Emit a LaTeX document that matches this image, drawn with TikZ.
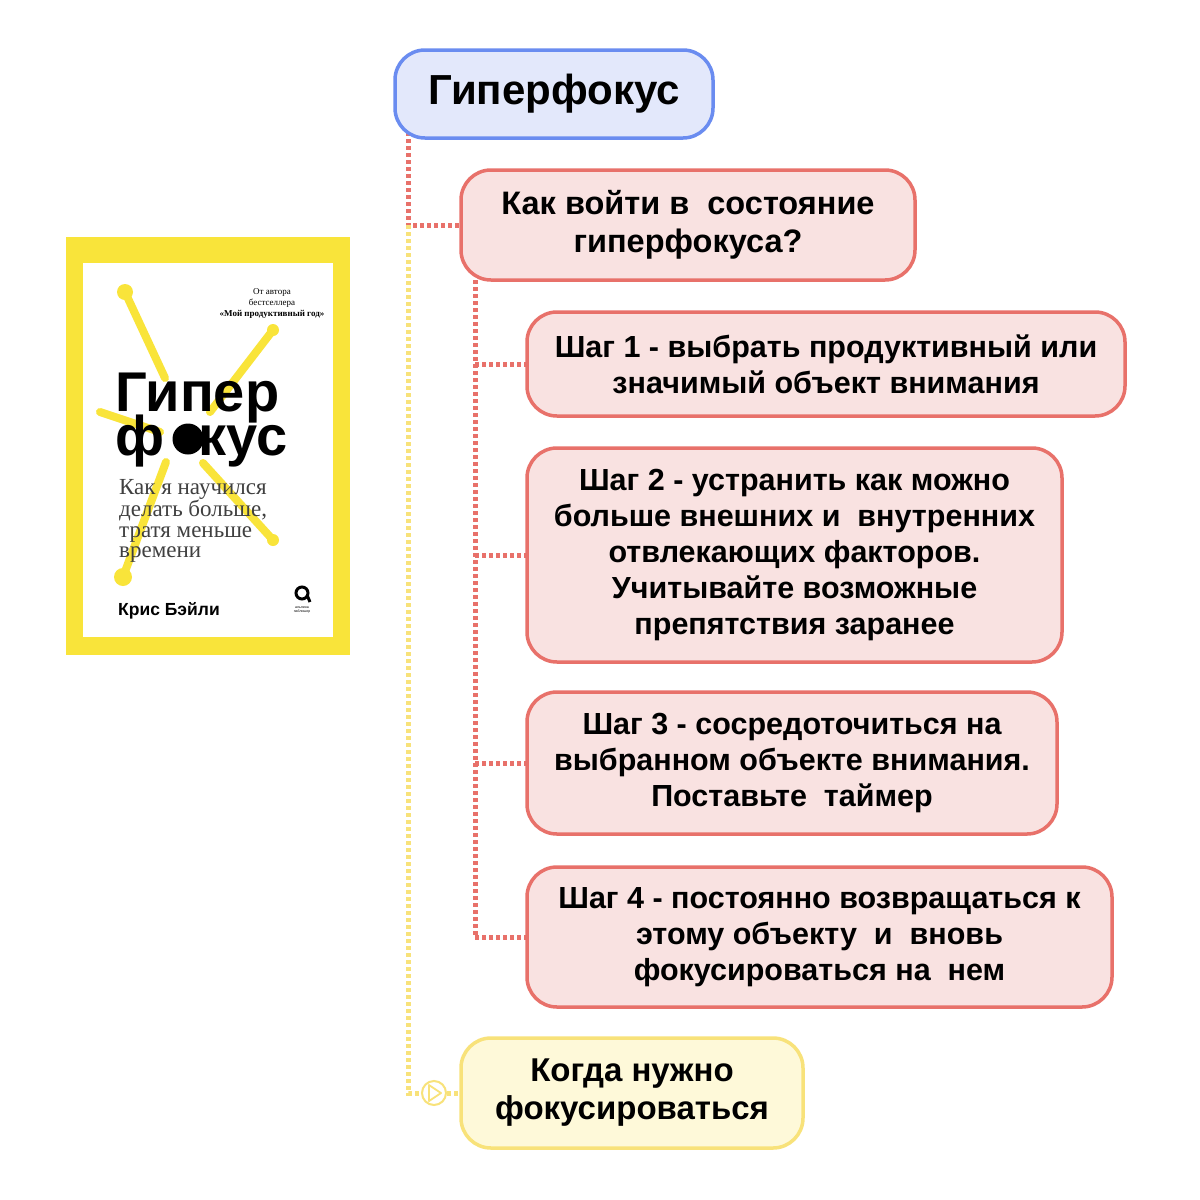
\documentclass[tikz,border=0pt]{standalone}
\usepackage{fontspec}
\setmainfont{Liberation Sans}
\newfontfamily\serifcov{Liberation Serif}
\begin{document}
\begin{tikzpicture}[x=1pt,y=-1pt,
  box/.style={draw,line width=3.5pt,rounded corners=30pt,align=center,font=\bfseries\fontsize{30.5}{36}\selectfont,inner sep=0pt},
  redbox/.style={box,draw=redb,fill=redf},
  rline/.style={draw=redb,line width=5pt,dash pattern=on 4pt off 3pt},
  yline/.style={draw=yelb,line width=5pt,dash pattern=on 4pt off 3pt},
  ray/.style={draw=coverY,line width=8pt,line cap=round}]
\definecolor{redb}{HTML}{E8716A}
\definecolor{redf}{HTML}{F9E2E1}
\definecolor{blueb}{HTML}{6A8CF0}
\definecolor{bluef}{HTML}{E3E8FB}
\definecolor{yelb}{HTML}{F8E27A}
\definecolor{yelf}{HTML}{FEF9D9}
\definecolor{coverY}{HTML}{F9E43A}
\useasboundingbox (0,0) rectangle (1200,1200);
\fill[white] (0,0) rectangle (1200,1200);
\coordinate (rj) at (408,225);
\coordinate (yj) at (408,1093);
\coordinate (c1) at (475,364);
\coordinate (c2) at (475,555);
\coordinate (c3) at (475,763);
\coordinate (c4) at (475,937);
% lines
\path[rline] (408,132) -- (rj) -- (462,225);
\path[yline] (rj) -- (yj) -- (421,1093);
\path[yline] (447,1093) -- (462,1093);
\path[rline] (475,280) -- (c4);
\path[rline] (c1) -- (528,364);
\path[rline] (c2) -- (528,555);
\path[rline] (c3) -- (528,763);
\path[rline] (c4) -- (528,937);
% nodes
\node[box,draw=blueb,fill=bluef,minimum width=318,minimum height=88,font=\bfseries\fontsize{42}{46}\selectfont] (root) at (554,94) {Гиперфокус};
\node[redbox,minimum width=454,minimum height=110,font=\bfseries\fontsize{32.5}{38}\selectfont] (q) at (688,225) {Как войти в\ \ состояние\\гиперфокуса?\vphantom{q}};
\node[redbox,minimum width=598,minimum height=104] (s1) at (826,364) {Шаг 1 - выбрать продуктивный или\\значимый объект внимания};
\node[redbox,minimum width=535,minimum height=214] (s2) at (794.5,555) {Шаг 2 - устранить как можно\\больше внешних и\ \ внутренних\\отвлекающих факторов.\\Учитывайте возможные\\препятствия заранее};
\node[redbox,minimum width=530,minimum height=142] (s3) at (792,763) {Шаг 3 - сосредоточиться на\\выбранном объекте внимания.\\Поставьте\ \ таймер};
\node[redbox,minimum width=585,minimum height=140] (s4) at (819.5,937) {Шаг 4 - постоянно возвращаться к\\этому объекту\ \ и\ \ вновь\\фокусироваться на\ \ нем};
\node[box,draw=yelb,fill=yelf,minimum width=342,minimum height=110,font=\bfseries\fontsize{33}{38}\selectfont] (fin) at (632,1093) {Когда нужно\\фокусироваться};
\node[circle,draw=yelb,line width=2pt,minimum size=24,inner sep=0pt] (play) at (434,1093) {};
\draw[yelb,line width=1.8pt,line join=round] (429,1085) -- (441,1093) -- (429,1101) -- cycle;
% book cover
\fill[coverY] (66,237) rectangle (350,655);
\fill[white] (83,263) rectangle (333,637);
\path[ray] (125,292) -- (165,378);
\path[ray] (273,330) -- (210,412);
\path[ray] (100,412) -- (160,432);
\path[ray] (123,577) -- (166,462);
\path[ray] (273,540) -- (203,463);
\fill[coverY] (125,292) circle (8);
\fill[coverY] (123,577) circle (9);
\fill[coverY] (273,330) circle (6);
\fill[coverY] (273,540) circle (6);
\node[anchor=base west,inner sep=0pt,font=\bfseries\fontsize{56}{56}\selectfont] (t1) at (115,411) {Гипер};
\node[anchor=base west,inner sep=0pt,font=\bfseries\fontsize{56}{56}\selectfont] (t2) at (115,455) {ф{\color{white}о}кус};
\fill[black] (188,439) circle (15.5);
\node[anchor=north west,inner sep=0pt,align=left,text=black!75,font=\serifcov\fontsize{23}{20.5}\selectfont] (sub) at (119,479) {Как я научился\\делать больше,\\тратя меньше\\времени};
\node[align=center,inner sep=0pt,font=\serifcov\fontsize{9}{11}\selectfont] (auth) at (272,303) {От автора\\бестселлера\\{\bfseries «Мой продуктивный год»}};
\node[anchor=base west,inner sep=0pt,font=\bfseries\fontsize{17.5}{17}\selectfont] (kb) at (118,615) {Крис Бэйли};
\draw[line width=3pt] (302,593) circle (6);
\draw[line width=3pt] (307,595) -- (310,602);
\node[inner sep=0pt,align=center,font=\fontsize{3.5}{4}\selectfont] (lg) at (302,610) {альпина\\паблишер};
\end{tikzpicture}
\end{document}
